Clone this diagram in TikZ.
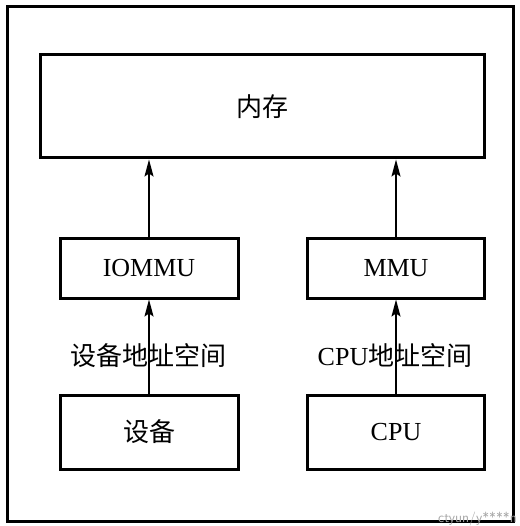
\documentclass[tikz,border=0pt]{standalone}
\usepackage{fontspec}
\setmainfont{Liberation Serif}
\newfontfamily\cjk{Noto Sans CJK SC}
\usetikzlibrary{arrows.meta}
\begin{document}
\begin{tikzpicture}[x=1pt,y=-1pt,
  box/.style={draw,line width=3pt,inner sep=0pt,font=\fontsize{26}{30}\selectfont},
  arr/.style={line width=1.7pt,-{Stealth[length=17pt,width=9pt,inset=3pt]}},
  lab/.style={inner sep=0pt,font=\fontsize{26}{30}\selectfont}]
\useasboundingbox (0,0) rectangle (519,526);
\draw[line width=3pt] (7,7) rectangle (513,521);
\node[box,minimum width=444pt,minimum height=103pt] (mem) at (262,106.5) {\cjk 内存};
\node[box,minimum width=178pt,minimum height=60pt] (iommu) at (149,268) {IOMMU};
\node[box,minimum width=177pt,minimum height=60pt] (mmu) at (396,268) {MMU};
\node[box,minimum width=178pt,minimum height=74pt] (dev) at (149,432) {\cjk 设备};
\node[box,minimum width=177pt,minimum height=74pt] (cpu) at (396,432) {CPU};
\draw[arr] (dev.north) -- (iommu.south);
\draw[arr] (iommu.north) -- (iommu.north |- mem.south);
\draw[arr] (cpu.north) -- (mmu.south);
\draw[arr] (mmu.north) -- (mmu.north |- mem.south);
\node[lab] (l1) at (148,356) {\cjk 设备地址空间};
\node[lab] (l2) at (395,356) {CPU{\cjk 地址空间}};
\node[anchor=base east,inner sep=0pt,text=black!35,font=\sffamily\fontsize{14}{14}\selectfont] (wm) at (517,522) {ctyun/y****n};
\end{tikzpicture}
\end{document}
